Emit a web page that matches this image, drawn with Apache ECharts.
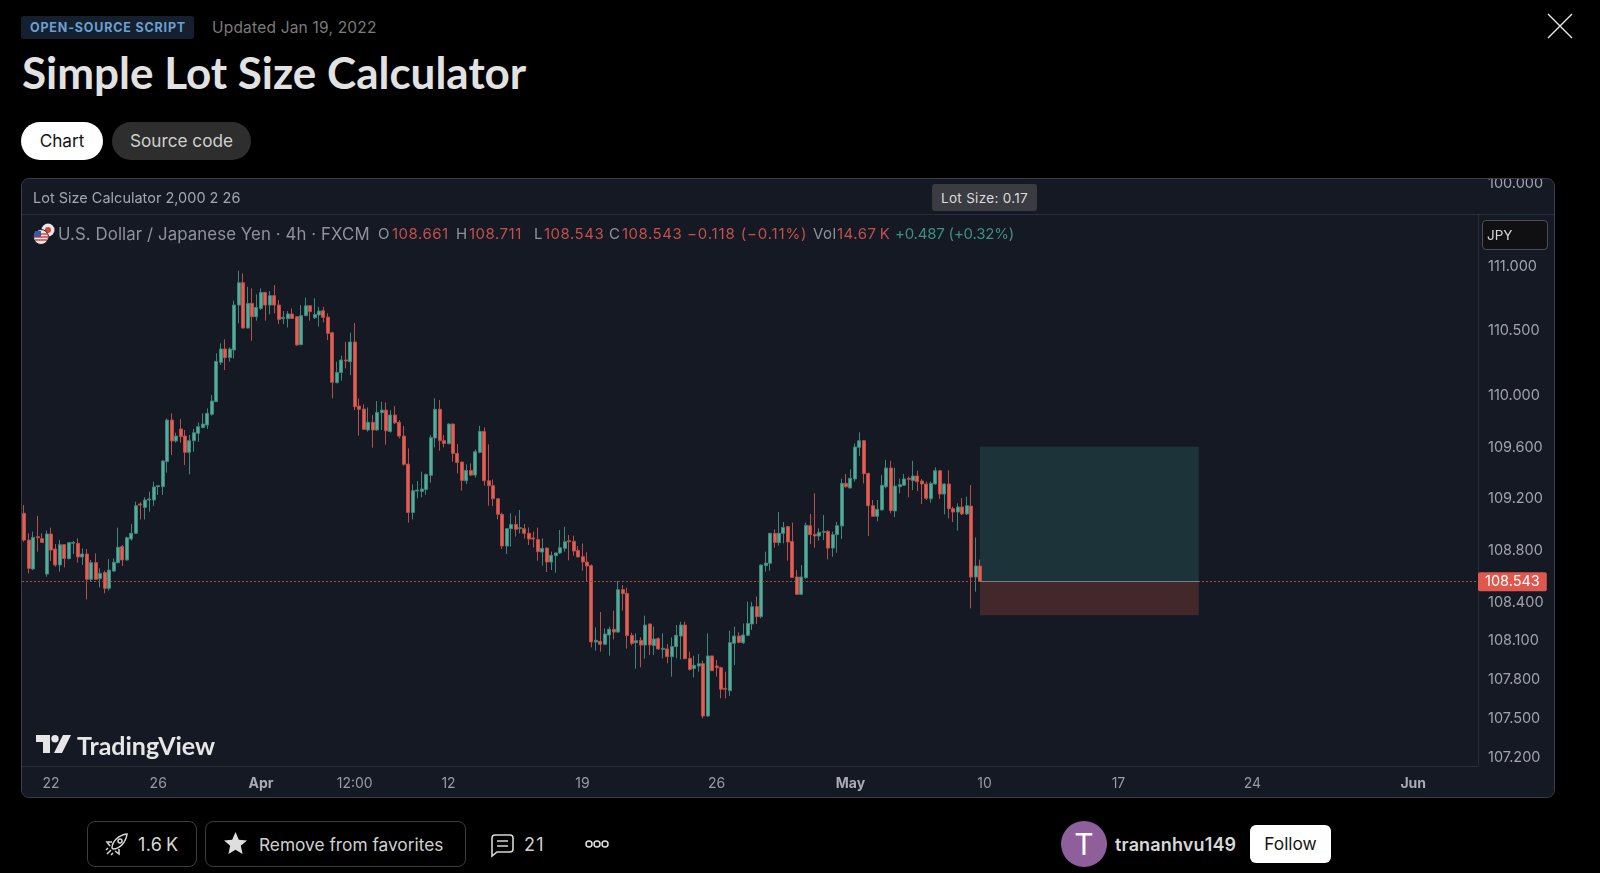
<!DOCTYPE html>
<html>

<head>
  <meta charset="utf-8" />
  <title>Simple Lot Size Calculator</title>
  <style>
    html, body { margin: 0; padding: 0; width: 1600px; height: 873px; overflow: hidden; background: #000; font-family: Inter, "Noto Sans", sans-serif; }
    .abs { position: absolute; white-space: nowrap; }
    #panel { position: absolute; left: 21px; top: 178px; width: 1532px; height: 618px; border: 1px solid #3a3e49; border-radius: 8px; background: #151924; overflow: hidden; }
    #main { position: absolute; left: 0; top: 0; width: 1532px; height: 618px; }
    .btnBox { position: absolute; top: 821px; height: 44px; border: 1px solid #3c3c3c; border-radius: 8px; }
    .legend { position: absolute; top: 225px; font-size: 15px; line-height: 18px; letter-spacing: 0.5px; white-space: nowrap; color: #8f929a; }
    .red { color: #c4504a; }
    .green { color: #3f8f83; }
  </style>
  <script src="https://cdn.jsdelivr.net/npm/echarts@6/dist/echarts.min.js"></script>
</head>

<body>
  <!-- page header -->
  <div class="abs" style="left:21px;top:16px;width:173px;height:23px;background:#14202e;border-radius:3px;"></div>
  <div class="abs" style="left:30px;top:19px;font-size:12.5px;line-height:17px;font-weight:700;letter-spacing:0.82px;color:#6b9fd0;">OPEN-SOURCE SCRIPT</div>
  <div class="abs" style="left:212px;top:18px;font-size:15.5px;line-height:20px;letter-spacing:0.2px;color:#7b7b7b;">Updated Jan 19, 2022</div>
  <div class="abs" style="left:22px;top:44px;font-family:Lato;font-size:44px;line-height:56px;font-weight:700;color:#e2e2e2;">Simple Lot Size Calculator</div>
  <div class="abs" style="left:21px;top:122px;width:82px;height:38px;border-radius:19px;background:#fff;color:#131313;font-size:17.2px;line-height:38px;text-align:center;">Chart</div>
  <div class="abs" style="left:112px;top:122px;width:139px;height:38px;border-radius:19px;background:#2e2e2e;color:#d0d0d0;font-size:17.2px;line-height:38px;text-align:center;">Source code</div>
  <svg class="abs" style="left:1546px;top:12px;" width="28" height="28"><path d="M2 2 L26 26 M26 2 L2 26" stroke="#e8e8e8" stroke-width="1.4" fill="none"/></svg>

  <div id="panel">
    <div id="main"></div>
  </div>

  <!-- overlay on the chart panel -->
  <div class="abs" style="left:22px;top:214px;width:1532px;height:1px;background:#2a2e39;"></div>
  <div class="abs" style="left:33px;top:189px;font-size:14.5px;line-height:18px;color:#a3a6ae;">Lot Size Calculator 2,000 2 26</div>
  <div class="abs" style="left:1488px;top:174px;height:20px;font-size:14.5px;line-height:17px;color:#a0a3ab;clip-path:inset(5px 0 0 0);">100.000</div>
  <div class="abs" style="left:932px;top:184px;width:105px;height:27px;border-radius:3px;background:#3a3c42;"></div>
  <div class="abs" style="left:941px;top:189px;font-size:13.5px;line-height:18px;letter-spacing:0.3px;color:#dcdcdc;">Lot Size: 0.17</div>
  <div class="abs" style="left:1482px;top:220px;width:64px;height:28px;background:#101012;border:1px solid #4a4e58;border-radius:4px;"></div>
  <div class="abs" style="left:1487px;top:226px;font-size:13.5px;line-height:18px;color:#d6d6d6;">JPY</div>

  <svg class="abs" style="left:32px;top:222px;" width="24" height="24">
    <circle cx="16" cy="8" r="6.5" fill="#e8e8e8"/><circle cx="16" cy="8" r="3" fill="#d8433c"/>
    <circle cx="9" cy="15" r="7.5" fill="#e8e8e8" stroke="#151924"/>
    <path d="M2 12 H16 M2 15 H17 M3 18 H15" stroke="#d8433c" stroke-width="1.7"/>
    <path d="M3 9 H9 V15 H1.6 Z" fill="#3a5a9c"/>
  </svg>
  <div class="legend" style="left:58px;top:224px;font-size:16.8px;line-height:20px;letter-spacing:0.1px;">U.S. Dollar / Japanese Yen · 4h · FXCM</div>
  <div class="legend" style="left:378px;">O</div><div class="legend red" style="left:392px;">108.661</div>
  <div class="legend" style="left:456px;">H</div><div class="legend red" style="left:469px;">108.711</div>
  <div class="legend" style="left:534px;">L</div><div class="legend red" style="left:544px;">108.543</div>
  <div class="legend" style="left:609px;">C</div><div class="legend red" style="left:622px;">108.543</div>
  <div class="legend red" style="left:687px;letter-spacing:0.85px;">−0.118 (−0.11%)</div>
  <div class="legend" style="left:813px;">Vol</div><div class="legend red" style="left:837px;">14.67&#8201;K</div>
  <div class="legend green" style="left:895px;letter-spacing:-0.2px;">+0.487 (+0.32%)</div>

  <svg class="abs" style="left:36px;top:735px;" width="35" height="18" fill="#e6e6e6">
    <path d="M0 0 H14 V18 H7 V7 H0 Z"/><circle cx="19" cy="3.7" r="3.7"/><path d="M27 0 H35 L26 18 H18 Z"/>
  </svg>
  <div class="abs" style="left:77px;top:729px;font-family:Lato;font-size:25px;line-height:32px;font-weight:700;color:#e6e6e6;">TradingView</div>

  <!-- bottom bar -->
  <div class="btnBox" style="left:87px;width:108px;"></div>
  <svg class="abs" style="left:104px;top:832px;" width="25" height="25" fill="none" stroke="#d8d8d8" stroke-width="1.5">
    <path d="M8 16 C8 9 15 3 23 2 C22 10 16 17 9 17 Z"/><circle cx="16" cy="9" r="2"/><path d="M8 10 H3 L6 14 M15 17 V22 L11 19 M3 22 L7 18 M2 18 L4 16 M7 23 L9 21"/>
  </svg>
  <div class="abs" style="left:138px;top:833px;font-size:18px;line-height:24px;letter-spacing:0.4px;color:#d8d8d8;">1.6&#8201;K</div>
  <div class="btnBox" style="left:205px;width:259px;"></div>
  <svg class="abs" style="left:223px;top:831px;" width="25" height="24" fill="#dedede"><path d="M12.5 1 L15.8 8.7 L24 9.4 L17.8 14.8 L19.6 23 L12.5 18.7 L5.4 23 L7.2 14.8 L1 9.4 L9.2 8.7 Z"/></svg>
  <div class="abs" style="left:259px;top:833px;font-size:17.3px;line-height:24px;color:#d0d0d0;">Remove from favorites</div>
  <svg class="abs" style="left:490px;top:833px;" width="26" height="25" fill="none" stroke="#d8d8d8" stroke-width="1.6">
    <path d="M2 5 Q2 2 5 2 H20 Q23 2 23 5 V16 Q23 19 20 19 H7 L2 23 Z"/><path d="M7 8 H18 M7 13 H18"/>
  </svg>
  <div class="abs" style="left:524px;top:833px;font-size:18px;line-height:24px;letter-spacing:1.2px;color:#d0d0d0;">21</div>
  <svg class="abs" style="left:584px;top:838px;" width="26" height="12" fill="none" stroke="#e0e0e0" stroke-width="1.5">
    <circle cx="5" cy="6" r="3"/><circle cx="13" cy="6" r="3"/><circle cx="21" cy="6" r="3"/>
  </svg>
  <div class="abs" style="left:1061px;top:821px;width:46px;height:46px;border-radius:23px;background:#8f5f9b;color:#fff;font-size:30px;line-height:46px;text-align:center;">T</div>
  <div class="abs" style="left:1115px;top:833px;font-size:18px;line-height:24px;font-weight:600;letter-spacing:0.15px;color:#d8d8d8;">trananhvu149</div>
  <div class="abs" style="left:1250px;top:825px;width:81px;height:38px;border-radius:6px;background:#fff;color:#131313;font-size:17.3px;line-height:38px;text-align:center;">Follow</div>

  <script type="text/javascript">
    // USD/JPY 4h candles: [open, close, low, high]
    const candles = [
      [109.069,108.862,108.849,109.133],[108.862,108.643,108.604,108.914],[108.638,108.883,108.630,108.927],[108.888,108.880,108.772,109.048],
      [108.873,108.844,108.842,108.914],[108.599,108.909,108.579,108.935],[108.909,108.785,108.700,108.958],[108.793,108.669,108.656,108.831],
      [108.669,108.826,108.617,108.862],[108.826,108.720,108.651,108.831],[108.718,108.842,108.713,108.847],[108.837,108.844,108.754,108.855],
      [108.837,108.731,108.687,108.875],[108.731,108.754,108.669,108.798],[108.754,108.558,108.403,108.793],[108.558,108.687,108.540,108.708],
      [108.687,108.558,108.553,108.759],[108.563,108.604,108.496,108.643],[108.610,108.488,108.450,108.625],[108.488,108.630,108.470,108.715],
      [108.622,108.690,108.617,108.720],[108.687,108.806,108.682,108.958],[108.811,108.708,108.661,108.824],[108.708,108.880,108.702,108.888],
      [108.870,108.914,108.857,108.986],[108.914,109.128,108.909,109.159],[109.141,109.133,109.022,109.154],[109.115,109.172,109.022,109.193],
      [109.172,109.180,109.082,109.236],[109.172,109.273,109.126,109.314],[109.275,109.283,109.211,109.288],[109.275,109.474,109.211,109.482],
      [109.469,109.791,109.384,109.804],[109.791,109.629,109.520,109.843],[109.629,109.667,109.616,109.693],[109.722,109.662,109.616,109.799],
      [109.667,109.541,109.443,109.714],[109.541,109.631,109.371,109.675],[109.631,109.693,109.546,109.722],[109.688,109.740,109.623,109.773],
      [109.734,109.760,109.727,109.843],[109.752,109.843,109.722,109.881],[109.835,109.938,109.825,109.985],[109.933,110.245,109.933,110.307],
      [110.238,110.341,110.217,110.385],[110.341,110.274,110.178,110.416],[110.274,110.341,110.243,110.354],[110.333,110.681,110.268,110.715],
      [110.681,110.854,110.539,110.947],[110.854,110.503,110.501,110.926],[110.503,110.694,110.501,110.823],[110.694,110.591,110.405,110.810],
      [110.591,110.663,110.560,110.764],[110.655,110.779,110.643,110.810],[110.779,110.681,110.560,110.784],[110.681,110.754,110.609,110.790],
      [110.754,110.681,110.617,110.836],[110.681,110.570,110.534,110.720],[110.576,110.586,110.534,110.635],[110.576,110.612,110.508,110.635],
      [110.612,110.578,110.573,110.655],[110.591,110.372,110.367,110.596],[110.374,110.599,110.372,110.681],[110.599,110.676,110.596,110.738],
      [110.676,110.630,110.560,110.681],[110.583,110.609,110.573,110.733],[110.604,110.635,110.514,110.668],[110.637,110.586,110.547,110.668],
      [110.588,110.462,110.410,110.617],[110.467,110.083,109.959,110.475],[110.080,110.160,110.075,110.243],[110.160,110.256,110.096,110.289],
      [110.256,110.248,110.191,110.397],[110.243,110.395,110.139,110.467],[110.395,109.894,109.868,110.542],[109.899,109.874,109.670,109.959],
      [109.876,109.719,109.714,109.912],[109.714,109.773,109.701,109.889],[109.773,109.714,109.577,109.830],[109.714,109.850,109.708,109.938],
      [109.848,109.868,109.714,109.933],[109.868,109.708,109.600,109.928],[109.703,109.830,109.693,109.868],[109.830,109.770,109.760,109.899],
      [109.773,109.667,109.649,109.791],[109.667,109.448,109.438,109.745],[109.450,109.076,108.996,109.572],[109.076,109.244,109.022,109.293],
      [109.241,109.249,109.185,109.319],[109.239,109.257,109.192,109.391],[109.254,109.370,109.213,109.378],[109.363,109.654,109.306,109.675],
      [109.652,109.874,109.579,109.959],[109.874,109.631,109.554,109.946],[109.631,109.610,109.579,109.675],[109.608,109.760,109.603,109.765],
      [109.760,109.533,109.468,109.765],[109.533,109.463,109.378,109.605],[109.466,109.324,109.244,109.468],[109.321,109.401,109.296,109.448],
      [109.401,109.365,109.358,109.456],[109.365,109.546,109.345,109.564],[109.541,109.703,109.533,109.747],[109.703,109.321,109.283,109.734],
      [109.321,109.283,109.128,109.603],[109.283,109.182,109.125,109.332],[109.182,109.061,109.022,109.185],[109.061,108.816,108.793,109.074],
      [108.816,108.950,108.754,108.952],[108.950,108.983,108.811,109.069],[108.983,108.945,108.888,109.051],[108.950,108.958,108.914,109.094],
      [108.950,108.914,108.875,108.986],[108.914,108.870,108.823,108.960],[108.878,108.870,108.805,108.927],[108.867,108.772,108.702,108.958],
      [108.769,108.798,108.664,108.875],[108.800,108.692,108.615,108.803],[108.692,108.744,108.630,108.772],[108.741,108.762,108.609,108.767],
      [108.762,108.803,108.754,108.940],[108.798,108.849,108.772,108.965],[108.857,108.849,108.705,108.901],[108.852,108.777,108.741,108.896],
      [108.782,108.731,108.726,108.816],[108.733,108.692,108.625,108.836],[108.692,108.661,108.545,108.767],[108.664,108.073,108.031,108.674],
      [108.073,108.086,108.006,108.186],[108.078,108.055,107.998,108.305],[108.055,108.135,108.049,108.178],[108.127,108.171,107.967,108.191],
      [108.171,108.150,108.093,108.315],[108.150,108.478,108.145,108.545],[108.478,108.447,108.315,108.514],[108.449,108.122,108.021,108.493],
      [108.124,108.062,108.047,108.145],[108.068,108.083,107.866,108.140],[108.086,108.049,107.877,108.109],[108.049,108.204,107.944,108.277],
      [108.212,108.050,107.972,108.217],[108.045,108.096,107.972,108.192],[108.099,108.019,108.011,108.109],[108.016,108.024,107.946,108.140],
      [108.019,107.959,107.908,108.057],[107.959,108.037,107.805,108.109],[108.037,108.125,107.946,108.204],[108.119,108.204,107.939,108.230],
      [108.204,107.944,107.939,108.230],[107.946,107.861,107.851,107.998],[107.867,107.892,107.799,107.967],[107.887,107.905,107.843,107.980],
      [107.905,107.500,107.482,107.928],[107.500,107.965,107.495,108.140],[107.965,107.851,107.848,107.967],[107.887,107.874,107.805,107.934],
      [107.874,107.707,107.637,107.882],[107.714,107.707,107.637,107.843],[107.696,108.068,107.655,108.161],[108.063,108.119,107.895,108.192],
      [108.119,108.070,108.063,108.148],[108.068,108.127,108.057,108.217],[108.125,108.217,108.119,108.385],[108.212,108.346,108.166,108.385],
      [108.346,108.269,108.212,108.424],[108.269,108.669,108.256,108.672],[108.664,108.684,108.617,108.772],[108.682,108.914,108.625,108.918],
      [108.914,108.844,108.803,108.945],[108.842,108.914,108.819,109.079],[108.914,108.960,108.837,109.002],[108.966,108.847,108.702,108.971],
      [108.852,108.573,108.568,108.997],[108.576,108.442,108.437,108.630],[108.442,108.576,108.437,108.669],[108.571,108.976,108.561,108.997],
      [108.973,108.904,108.831,109.064],[108.906,108.893,108.803,109.224],[108.893,108.922,108.857,108.953],[108.922,108.929,108.862,109.056],
      [108.929,108.800,108.713,108.940],[108.800,108.904,108.733,108.927],[108.904,108.973,108.764,109.004],[108.971,109.301,108.870,109.337],
      [109.301,109.275,109.267,109.373],[109.265,109.340,109.262,109.409],[109.335,109.582,109.314,109.611],[109.580,109.631,109.513,109.696],
      [109.631,109.376,109.301,109.636],[109.378,109.128,108.893,109.384],[109.128,109.046,109.043,109.172],[109.046,109.100,109.007,109.172],
      [109.095,109.286,109.090,109.365],[109.275,109.420,109.262,109.482],[109.420,109.090,109.069,109.476],[109.087,109.280,109.040,109.422],
      [109.275,109.291,109.224,109.337],[109.286,109.335,109.280,109.373],[109.340,109.332,109.193,109.353],[109.322,109.358,109.249,109.476],
      [109.358,109.314,109.242,109.399],[109.319,109.296,109.141,109.335],[109.296,109.185,109.172,109.314],[109.182,109.301,109.151,109.314],
      [109.296,109.399,109.291,109.425],[109.399,109.218,109.180,109.402],[109.218,109.296,109.061,109.301],[109.296,109.105,109.030,109.402],
      [109.105,109.079,109.002,109.120],[109.079,109.118,108.935,109.146],[109.118,109.064,109.056,109.187],[109.064,109.128,109.056,109.198],
      [109.125,108.576,108.333,109.288],[108.576,108.661,108.462,108.883],[108.661,108.543,108.543,108.711]
    ];

    // price axis
    const priceTicks = [107.2, 107.5, 107.8, 108.1, 108.4, 108.8, 109.2, 109.6, 110, 110.5, 111];
    const priceMin = 107.113;
    const priceMax = 111.386;
    const lastPrice = 108.543;

    // time axis: bar slots including the empty space to the right
    const slotCount = 326;
    const tickIndex = [6, 30, 53, 74, 95, 125, 155, 185, 215, 245, 275, 311];
    const tickLabels = ['22', '26', 'Apr', '12:00', '12', '19', '26', 'May', '10', '17', '24', 'Jun'];
    const boldLabels = ['Apr', 'May', 'Jun'];

    // long position box
    const boxStart = 214;
    const boxEnd = 263;
    const targetPrice = 109.585;
    const stopPrice = 108.280;

    const categories = [];
    for (let i = 0; i < slotCount; i++) {
      categories.push(String(i));
    }

    var myChart = echarts.init(document.getElementById('main'));

    var option = {
      animation: false,
      backgroundColor: '#151924',
      grid: { left: 0, top: 35, width: 1456, height: 552 },
      xAxis: {
        type: 'category',
        data: categories,
        boundaryGap: true,
        axisLine: { lineStyle: { color: '#2a2e39' } },
        axisTick: { show: false },
        splitLine: { show: false },
        axisLabel: {
          interval: function (index) {
            return tickIndex.indexOf(index) >= 0;
          },
          formatter: function (value) {
            let label = tickLabels[tickIndex.indexOf(Number(value))];
            return boldLabels.indexOf(label) >= 0 ? '{b|' + label + '}' : label;
          },
          rich: { b: { fontFamily: 'Inter', fontSize: 14, fontWeight: 700, color: '#a8abb3' } },
          fontFamily: 'Inter',
          fontSize: 14,
          color: '#989ba3',
          margin: 11,
          hideOverlap: false
        }
      },
      yAxis: {
        type: 'value',
        position: 'right',
        min: priceMin,
        max: priceMax,
        axisLine: { show: true, lineStyle: { color: '#2a2e39' } },
        axisTick: { show: false },
        splitLine: { show: false },
        axisLabel: {
          customValues: priceTicks,
          formatter: function (value) {
            return value.toFixed(3);
          },
          fontFamily: 'Inter',
          fontSize: 14.5,
          color: '#a0a3ab',
          margin: 10,
          align: 'left',
          verticalAlign: 'top',
          lineHeight: 5
        }
      },
      series: [{
        type: 'candlestick',
        data: candles,
        barWidth: 3.5,
        itemStyle: {
          color: '#52ac9b',
          color0: '#e85c52',
          borderColor: '#3f8579',
          borderColor0: '#b64f49',
          borderWidth: 1
        },
        markArea: {
          silent: true,
          data: [
            [{ coord: [boxStart, targetPrice], itemStyle: { color: '#1c3439' } }, { coord: [boxEnd, lastPrice] }],
            [{ coord: [boxStart, lastPrice], itemStyle: { color: '#42272b' } }, { coord: [boxEnd, stopPrice] }]
          ]
        },
        markLine: {
          silent: true,
          symbol: 'none',
          data: [
            {
              yAxis: lastPrice,
              lineStyle: { color: '#b04a45', type: [2, 2], width: 1 },
              label: {
                show: true,
                position: 'end',
                distance: 0,
                formatter: lastPrice.toFixed(3),
                backgroundColor: '#e0574e',
                color: '#ffffff',
                fontFamily: 'Inter',
                fontSize: 14.5,
                padding: [2, 7, 2, 7],
                borderRadius: 2
              }
            },
            [
              { coord: [boxStart, lastPrice], lineStyle: { color: '#767f82', type: 'solid', width: 1 }, label: { show: false } },
              { coord: [boxEnd, lastPrice] }
            ]
          ]
        }
      }]
    };
    myChart.setOption(option);
  </script>
</body>

</html>
